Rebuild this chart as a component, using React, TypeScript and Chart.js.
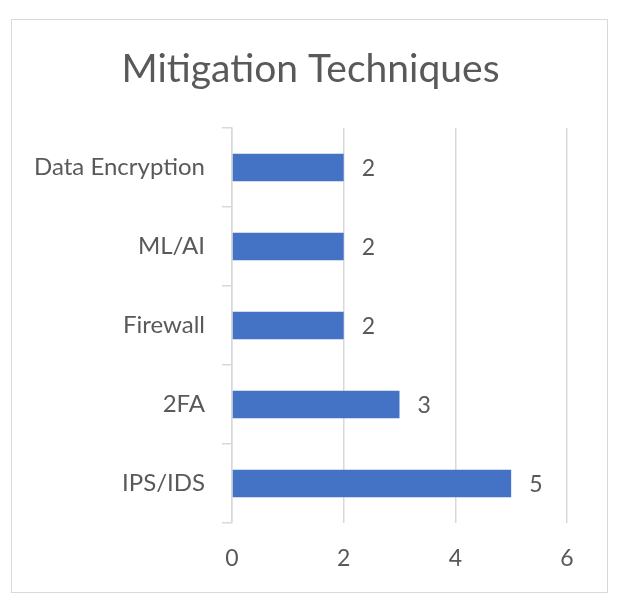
import { useEffect, useRef } from 'react'
import { Chart, ChartConfiguration, Plugin, registerables } from 'chart.js'

Chart.register(...registerables)

const categories = ['Data Encryption', 'ML/AI', 'Firewall', '2FA', 'IPS/IDS']
const counts = [2, 2, 2, 3, 5]
const xTicks = [0, 2, 4, 6]
const chartTitle = 'Mitigation Techniques'

const FONT = 'Lato, "Open Sans", sans-serif'
const TEXT = '#595959'
const LINE = '#d9d9d9'

// draws the count a little past the end of each bar
const valueLabels: Plugin<'bar'> = {
  id: 'valueLabels',
  afterDatasetsDraw(chart) {
    const ctx = chart.ctx
    const meta = chart.getDatasetMeta(0)
    ctx.save()
    ctx.font = `23px ${FONT}`
    ctx.fillStyle = TEXT
    ctx.textAlign = 'left'
    ctx.textBaseline = 'middle'
    meta.data.forEach((bar, i) => {
      const { x, y } = bar.getProps(['x', 'y'], true)
      ctx.fillText(String(counts[i]), x + 18, y + 1)
    })
    ctx.restore()
  }
}

// title centred over the whole canvas, not just the padded layout area
const centredTitle: Plugin<'bar'> = {
  id: 'centredTitle',
  afterDraw(chart) {
    const ctx = chart.ctx
    ctx.save()
    ctx.font = `39px ${FONT}`
    ctx.fillStyle = TEXT
    ctx.textAlign = 'center'
    ctx.textBaseline = 'alphabetic'
    ctx.fillText(chartTitle, chart.width / 2 + 1, 62)
    ctx.restore()
  }
}

export default function App() {
  const canvasRef = useRef<HTMLCanvasElement>(null)

  useEffect(() => {
    if (!canvasRef.current) return

    const config: ChartConfiguration<'bar'> = {
      type: 'bar',
      data: {
        labels: categories,
        datasets: [{
          data: counts,
          backgroundColor: '#4472C4',
          borderWidth: 0,
          barPercentage: 1,
          categoryPercentage: 0.345
        }]
      },
      options: {
        indexAxis: 'y',
        animation: false,
        responsive: true,
        maintainAspectRatio: false,
        layout: { padding: { left: 0, right: 40, top: 108, bottom: 0 } },
        plugins: {
          legend: { display: false },
          tooltip: { enabled: false },
          title: { display: false }
        },
        scales: {
          x: {
            min: 0,
            max: 6,
            afterBuildTicks: scale => {
              scale.ticks = xTicks.map(v => ({ value: v }))
            },
            afterFit: scale => {
              scale.height = 69
            },
            grid: { color: LINE, lineWidth: 1.5, drawTicks: false },
            border: { display: false },
            ticks: {
              color: TEXT,
              padding: 22,
              font: { family: FONT, size: 23 }
            }
          },
          y: {
            afterFit: scale => {
              scale.width = 220
            },
            grid: {
              offset: true,
              drawOnChartArea: false,
              color: LINE,
              lineWidth: 1.5,
              tickLength: 10
            },
            border: { color: LINE, width: 1.5 },
            ticks: {
              color: TEXT,
              padding: 17,
              font: { family: FONT, size: 24 }
            }
          }
        }
      },
      plugins: [valueLabels, centredTitle]
    }

    const chart = new Chart(canvasRef.current, config)
    return () => chart.destroy()
  }, [])

  return (
    <div style={{
      position: 'absolute',
      left: 11,
      top: 19,
      width: 595,
      height: 572,
      border: `1px solid ${LINE}`,
      background: '#fff'
    }}>
      <canvas ref={canvasRef} />
    </div>
  )
}
